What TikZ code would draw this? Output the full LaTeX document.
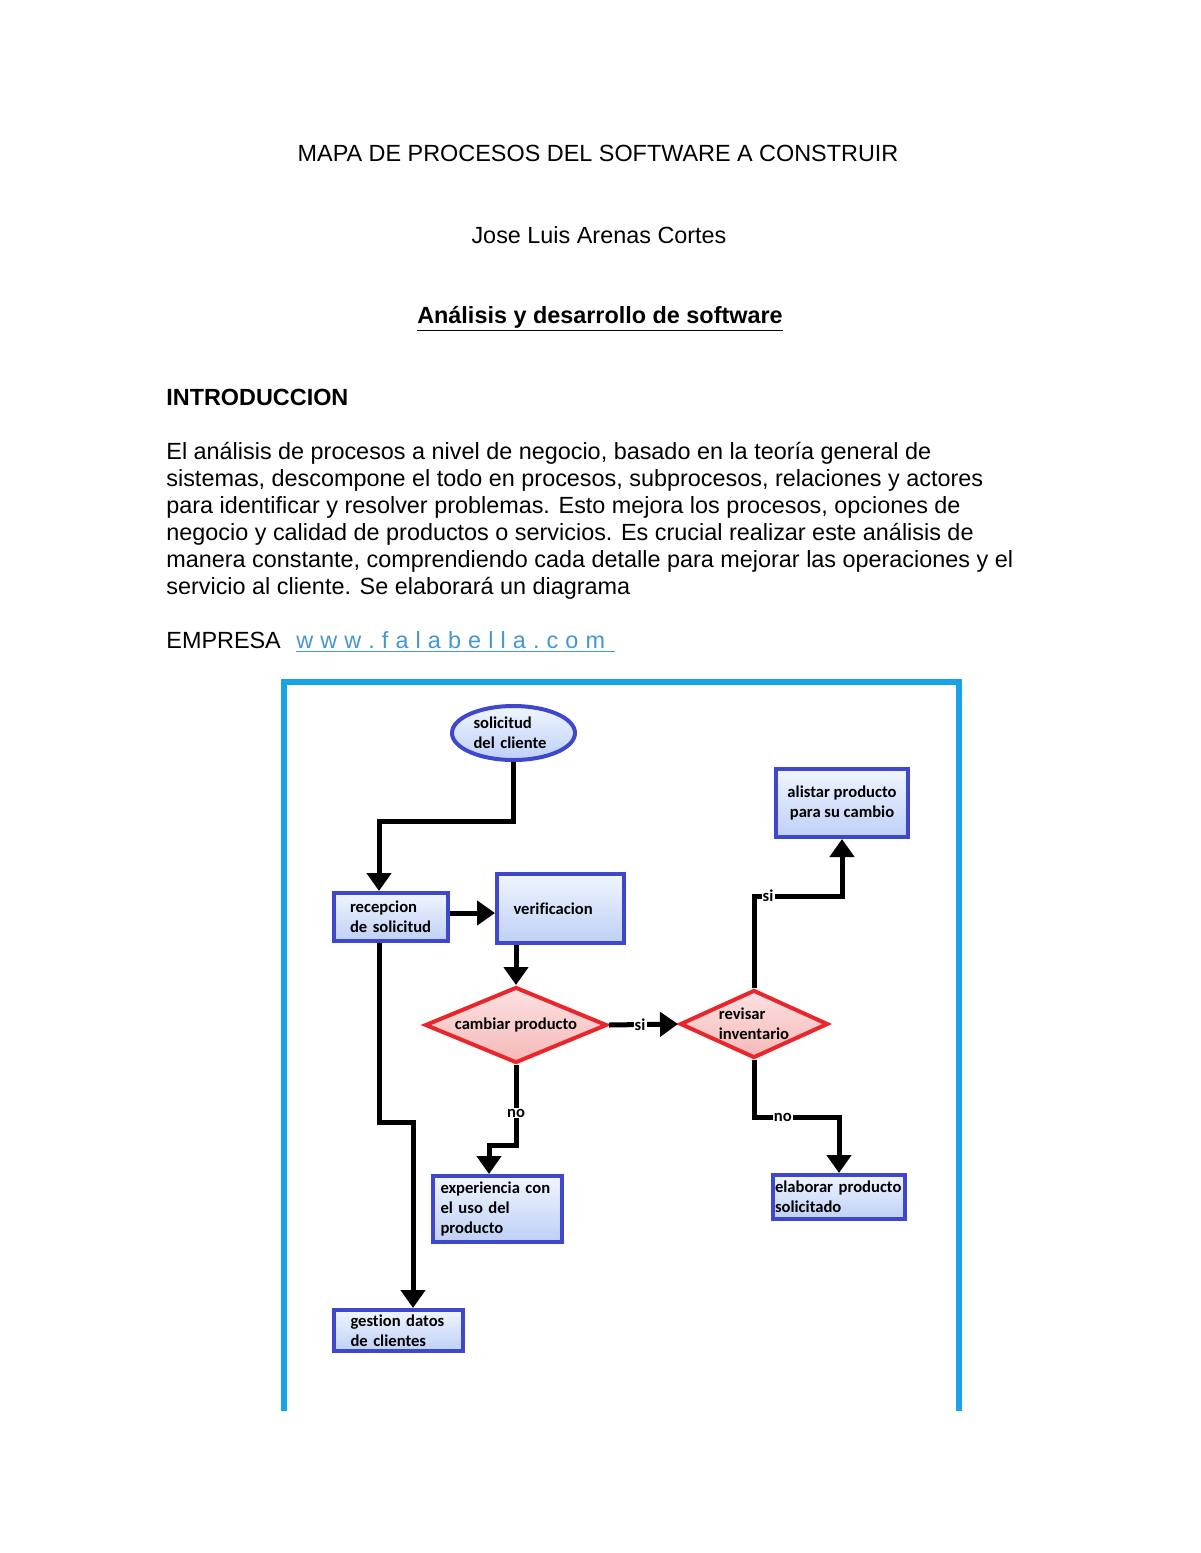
\documentclass[tikz,border=0pt]{standalone}
\usepackage{fontspec}
\setmainfont{Liberation Sans}
\newfontfamily\dfont[Ligatures=NoCommon]{Carlito}
\usetikzlibrary{shapes.geometric,arrows.meta}
\hyphenpenalty=10000
\definecolor{framecol}{RGB}{22,164,230}
\definecolor{boxborder}{RGB}{63,72,204}
\definecolor{boxtop}{RGB}{240,245,255}
\definecolor{boxbot}{RGB}{190,208,246}
\definecolor{redborder}{RGB}{232,38,43}
\definecolor{pinktop}{RGB}{253,225,225}
\definecolor{pinkbot}{RGB}{245,185,185}
\definecolor{linkcol}{RGB}{70,150,210}
\newcommand{\lsp}{\hspace{3.55pt}}
\begin{document}
\begin{tikzpicture}[x=0.5pt,y=-0.5pt,
  doctext/.style={anchor=base west,inner sep=0pt,font=\fontsize{11.7pt}{13.5pt}\selectfont},
  doccenter/.style={anchor=base,inner sep=0pt,font=\fontsize{11.7pt}{13.5pt}\selectfont},
  dfontsty/.style={font=\dfont\bfseries\fontsize{8.3pt}{10pt}\selectfont},
  procbox/.style={draw=boxborder,line width=2pt,rectangle,top color=boxtop,bottom color=boxbot,
    dfontsty,inner sep=0pt,align=left},
  startnode/.style={draw=boxborder,line width=2pt,ellipse,top color=boxtop,bottom color=boxbot,
    dfontsty,inner sep=0pt,align=left},
  decision/.style={draw=redborder,line width=2pt,diamond,top color=pinktop,bottom color=pinkbot,
    dfontsty,inner sep=0pt,align=left},
  conn/.style={line width=2.5pt,black},
  arr/.style={conn,-{Triangle[width=12pt,length=9pt]}},
  lbl/.style={fill=white,inner sep=0.6pt,font=\dfont\bfseries\fontsize{8.3pt}{9pt}\selectfont}
]
\useasboundingbox (0,0) rectangle (1200,1553);

% ---------- document text ----------
\node[doccenter] (title) at (598,161) {MAPA DE PROCESOS DEL SOFTWARE A CONSTRUIR};
\node[doccenter] (author) at (599,243) {Jose Luis Arenas Cortes};
\node[doccenter,font=\bfseries\fontsize{11.7pt}{13.5pt}\selectfont] (course) at (600,323) {\underline{Análisis y desarrollo de software}};
\node[doctext,font=\bfseries\fontsize{11.7pt}{13.5pt}\selectfont] (intro) at (166,405) {INTRODUCCION};
\node[doctext] (l1) at (166,459) {El análisis de procesos a nivel de negocio, basado en la teoría general de};
\node[doctext] (l2) at (166,486) {sistemas, descompone el todo en procesos, subprocesos, relaciones y actores};
\node[doctext] (l3) at (166,513) {para identificar y resolver problemas. Esto mejora los procesos, opciones de};
\node[doctext] (l4) at (166,540) {negocio y calidad de productos o servicios. Es crucial realizar este análisis de};
\node[doctext] (l5) at (166,567) {manera constante, comprendiendo cada detalle para mejorar las operaciones y el};
\node[doctext] (l6) at (166,594) {servicio al cliente. Se elaborará un diagrama};
\node[doctext] (emp) at (166,648) {EMPRESA};
\node[doctext,text=linkcol] (link) at (296,648) {\underline{w\lsp w\lsp w\lsp .\lsp f\lsp a\lsp l\lsp a\lsp b\lsp e\lsp l\lsp l\lsp a\lsp .\lsp c\lsp o\lsp m\hspace{5pt}}};

% ---------- frame ----------
\draw[framecol,line width=2.6pt] (284,1411) -- (284,682) -- (959,682) -- (959,1411);

% ---------- nodes ----------
\node[startnode,minimum width=61.5pt,minimum height=27pt,text width=40pt] (sol) at (513.5,733) {solicitud\\del cliente};
\node[procbox,minimum width=57pt,minimum height=24pt,text width=41pt] (rec) at (391,917) {recepcion\\de solicitud};
\node[procbox,minimum width=63.5pt,minimum height=34.5pt,text width=47pt] (ver) at (560.5,908.5) {verificacion};
\node[decision,minimum width=91pt,minimum height=38pt,aspect=2.4] (cp) at (516,1025) {cambiar producto};
\node[decision,minimum width=74pt,minimum height=34pt,aspect=2.2] (rv) at (754,1024) {revisar\\inventario};
\node[procbox,minimum width=66pt,minimum height=34pt,align=center] (al) at (842,803) {alistar producto\\para su cambio};
\node[procbox,minimum width=64.5pt,minimum height=33pt,text width=57pt] (ex) at (497.5,1209) {experiencia con\\el uso del\\producto};
\node[procbox,minimum width=66pt,minimum height=22pt,text width=64pt] (el) at (839,1197) {elaborar producto\\solicitado};
\node[procbox,minimum width=64.5pt,minimum height=20.5pt,text width=48pt] (gd) at (398.5,1330.5) {gestion datos\\de clientes};

% ---------- bend coordinates ----------
\coordinate (b1) at (379,821);
\coordinate (b2) at (842,896);
\coordinate (b3) at (839,1117);
\coordinate (b4) at (489,1145);
\coordinate (b5) at (379,1122);
\coordinate (b6) at (413,1122);

% ---------- connectors ----------
\draw[arr] (sol.south) |- (b1) -- (b1 |- rec.north);
\draw[arr] (rec.east |- 0,913) -- (ver.west |- 0,913);
\draw[arr] (cp.north |- ver.south) -- (cp.north);
\draw[arr] (cp.east) -- node[lbl,pos=0.45]{si} (rv.west);
\draw[arr] (rv.north) -- (rv.north |- b2) -- node[lbl,pos=0.16]{si} (b2) -- (al.south);
\draw[arr] (rv.south) -- (rv.south |- b3) -- node[lbl,pos=0.34]{no} (b3) -- (el.north);
\draw[arr] (cp.south) -- node[lbl,pos=0.6]{no} (cp.south |- b4) -- (b4) -- (b4 |- ex.north);
\draw[arr] (b5 |- rec.south) -- (b5) -- (b6) -- (b6 |- gd.north);
\end{tikzpicture}
\end{document}
